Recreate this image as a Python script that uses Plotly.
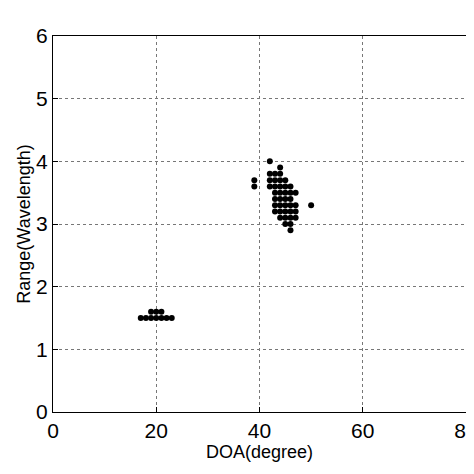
import plotly.graph_objects as go

doa = [42, 44, 42, 43, 44, 39, 42, 43, 44, 45, 39, 42, 43, 44, 45, 46,
       43, 44, 45, 46, 47, 43, 44, 45, 46, 43, 44, 45, 46, 47, 50,
       43, 44, 45, 46, 47, 44, 45, 46, 47, 45, 46, 46,
       19, 20, 21, 17, 18, 19, 20, 21, 22, 23]
rng = [4.0, 3.9, 3.8, 3.8, 3.8, 3.7, 3.7, 3.7, 3.7, 3.7, 3.6, 3.6, 3.6, 3.6, 3.6, 3.6,
       3.5, 3.5, 3.5, 3.5, 3.5, 3.4, 3.4, 3.4, 3.4, 3.3, 3.3, 3.3, 3.3, 3.3, 3.3,
       3.2, 3.2, 3.2, 3.2, 3.2, 3.1, 3.1, 3.1, 3.1, 3.0, 3.0, 2.9,
       1.6, 1.6, 1.6, 1.5, 1.5, 1.5, 1.5, 1.5, 1.5, 1.5]

fig = go.Figure(go.Scatter(x=doa, y=rng, mode="markers",
                           marker=dict(color="black", size=6)))
ax = dict(showline=True, linecolor="black", mirror=True, ticks="inside",
          tickcolor="black", showgrid=True, gridcolor="#777", griddash="dot",
          zeroline=False, automargin=False,
          tickfont=dict(size=21, color="black", family="Liberation Sans"))
fig.update_layout(
    width=474, height=474, plot_bgcolor="white", paper_bgcolor="white",
    margin=dict(l=45, r=16, t=28, b=70), showlegend=False,
    xaxis=dict(ax, range=[0, 80], dtick=20,
               title=dict(text="DOA(degree)", standoff=0,
                          font=dict(size=18, color="black", family="Liberation Sans"))),
    yaxis=dict(ax, range=[0, 6], dtick=1,
               title=dict(text="Range(Wavelength)", standoff=0,
                          font=dict(size=18, color="black", family="Liberation Sans"))),
)
fig.write_html("out.html")
